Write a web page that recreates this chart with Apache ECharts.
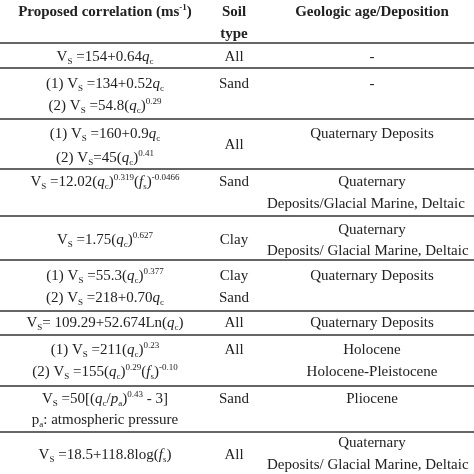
<!DOCTYPE html>
<html><head><meta charset="utf-8">
<script src="https://cdn.jsdelivr.net/npm/echarts@6/dist/echarts.min.js"></script>
<style>html,body{margin:0;padding:0;background:#fff}#c{width:474px;height:474px}</style>
</head><body><div id="c"></div>
<script>
// Table content (rich-text markup)
const headers = [["{b|Proposed correlation (ms}{bs|-1}{b|)}"], ["{b|Soil}", "{b|type}"], ["{b|Geologic age/Deposition}"]];
const correlations = [
  ["{t|V}{sub|S}{t| =154+0.64}{i|q}{sub|c}"],
  ["{t|(1) V}{sub|S}{t| =134+0.52}{i|q}{sub|c}", "{t|(2) V}{sub|S}{t| =54.8(}{i|q}{sub|c}{t|)}{sup|0.29}"],
  ["{t|(1) V}{sub|S}{t| =160+0.9}{i|q}{sub|c}", "{t|(2) V}{sub|S}{t|=45(}{i|q}{sub|c}{t|)}{sup|0.41}"],
  ["{t|V}{sub|S}{t| =12.02(}{i|q}{sub|c}{t|)}{sup|0.319}{t|(}{i|f}{sub|s}{t|)}{sup|-0.0466}"],
  ["{t|V}{sub|S}{t| =1.75(}{i|q}{sub|c}{t|)}{sup|0.627}"],
  ["{t|(1) V}{sub|S}{t| =55.3(}{i|q}{sub|c}{t|)}{sup|0.377}", "{t|(2) V}{sub|S}{t| =218+0.70}{i|q}{sub|c}"],
  ["{t|V}{sub|S}{t|= 109.29+52.674Ln(}{i|q}{sub|c}{t|)}"],
  ["{t|(1) V}{sub|S}{t| =211(}{i|q}{sub|c}{t|)}{sup|0.23}", "{t|(2) V}{sub|S}{t| =155(}{i|q}{sub|c}{t|)}{sup|0.29}{t|(}{i|f}{sub|s}{t|)}{sup|-0.10}"],
  ["{t|V}{sub|S}{t| =50[(}{i|q}{sub|c}{t|/}{i|p}{sub|a}{t|)}{sup|0.43}{t| - 3]}", "{t|p}{sub|a}{t|: atmospheric pressure}"],
  ["{t|V}{sub|S}{t| =18.5+118.8log(}{i|f}{sub|s}{t|)}"]
];
const soilTypes = [["All"], ["Sand"], ["All"], ["Sand"], ["Clay"], ["Clay", "Sand"], ["All"], ["All"], ["Sand"], ["All"]];
const geologic = [["-"], ["-"], ["Quaternary Deposits"], ["Quaternary", "Deposits/Glacial Marine, Deltaic"], ["Quaternary", "Deposits/ Glacial Marine, Deltaic"],
  ["Quaternary Deposits"], ["Quaternary Deposits"], ["Holocene", "Holocene-Pleistocene"], ["Pliocene"], ["Quaternary", "Deposits/ Glacial Marine, Deltaic"]];

// layout
const rowLines = [43, 68, 119, 169, 216, 260, 311, 335, 386, 432];
const rowTextY = [[57], [84, 106], [134, 158], [182, 204], [230, 251], [276, 298], [323], [350, 372], [399, 420], [443, 465]];
const singleMid = { 2: [145, 134], 4: [240, null], 9: [455, 455] }; // [col1/col2 mid, col3 single]
const colX = [105, 234, 372];
const FONT = '"Liberation Serif","Times New Roman",serif';
const rich = {
  t: { fontSize: 15, fontFamily: FONT, color: '#222', height: 20, verticalAlign: 'middle' },
  i: { fontSize: 15, fontFamily: FONT, fontStyle: 'italic', color: '#222', height: 20 },
  sub: { fontSize: 9, fontFamily: FONT, color: '#222', padding: [9, 0, 0, 0] },
  sup: { fontSize: 9, fontFamily: FONT, color: '#222', padding: [0, 0, 8, 0] },
  b: { fontSize: 15, fontFamily: FONT, fontWeight: 'bold', color: '#222' },
  bs: { fontSize: 9, fontFamily: FONT, fontWeight: 'bold', color: '#222', padding: [0, 0, 8, 0] }
};
const els = [];
function txt(x, y, s, align) {
  els.push({ type: 'text', x: x, y: y, style: { text: s, rich: rich, fontSize: 15, fontFamily: FONT, fill: '#222', align: align || 'center', verticalAlign: 'middle' } });
}
txt(colX[0], 12, headers[0][0]);
txt(colX[1], 12, headers[1][0]); txt(colX[1], 34, headers[1][1]);
txt(colX[2], 12, headers[2][0]);
for (let r = 0; r < correlations.length; r++) {
  const ys = rowTextY[r];
  const mid = singleMid[r];
  const c1 = correlations[r];
  if (c1.length === 1 && mid) txt(colX[0], mid[0], c1[0]); else c1.forEach((s, k) => txt(colX[0], ys[k], s));
  const c2 = soilTypes[r];
  if (c2.length === 1 && mid) txt(colX[1], mid[0], '{t|' + c2[0] + '}'); else c2.forEach((s, k) => txt(colX[1], ys[k], '{t|' + s + '}'));
  const c3 = geologic[r];
  c3.forEach((s, k) => {
    const y = (c3.length === 1 && mid && mid[1] != null) ? mid[1] : ys[k];
    const long = s.length > 20;
    txt(long ? 267 : colX[2], y, '{t|' + s + '}', long ? 'left' : 'center');
  });
}
rowLines.forEach(y => els.push({ type: 'line', shape: { x1: 0, y1: y, x2: 474, y2: y }, style: { stroke: '#666', lineWidth: 2 } }));
const chart = echarts.init(document.getElementById('c'));
chart.setOption({ animation: false, graphic: { elements: els } });
</script></body></html>
